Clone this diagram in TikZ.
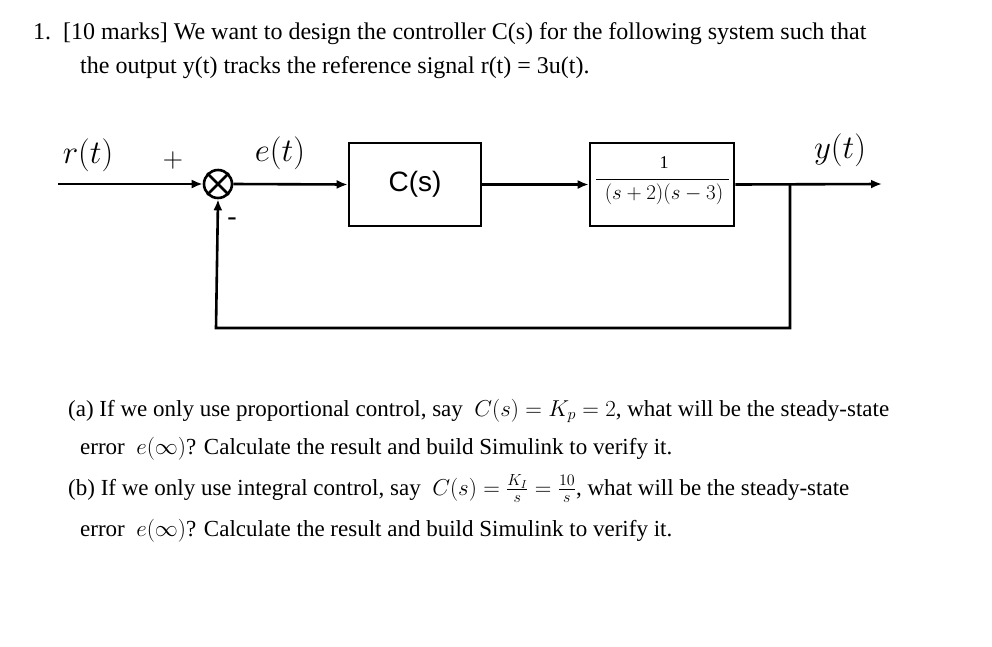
\RequirePackage{fix-cm}
\documentclass[tikz,border=0pt]{standalone}
\usepackage{fontspec}
\setmainfont{Liberation Serif}
\newfontfamily\blocksans{Liberation Sans}
\usetikzlibrary{arrows.meta}
\begin{document}
\begin{tikzpicture}[x=1pt,y=-1pt,
  wire/.style={line width=2.6pt},
  arr/.style={wire,-{Latex[length=11pt,width=9pt]}},
  blk/.style={draw,line width=2.6pt,minimum width=132pt,minimum height=83pt},
  txt/.style={anchor=base west,inner sep=0pt,font=\fontsize{24}{28}\selectfont},
  qtxt/.style={anchor=base west,inner sep=0pt,font=\fontsize{23}{28}\selectfont},
  lab/.style={font=\fontsize{33}{36}\selectfont}]
\useasboundingbox (0,0) rectangle (992,646);
\node[txt] (t1) at (33,39) {1.\ \ [10 marks] We want to design the controller C(s) for the following system such that};
\node[txt] (t2) at (80,73) {the output y(t) tracks the reference signal r(t) = 3u(t).};
% diagram
\coordinate (in) at (58,184);
\node[draw,circle,line width=2.6pt,minimum size=28pt,inner sep=0pt] (sum) at (218,184) {};
\draw[line width=2.6pt] (sum.45)--(sum.225) (sum.135)--(sum.315);
\node[blk] (c) at (415,184.5) {\blocksans\fontsize{28}{30}\selectfont C(s)};
\node[blk,minimum width=144pt] (g) at (662,184.5) {};
\node (num) at (664,163) {\fontsize{18}{20}\selectfont 1};
\node (den) at (664,194) {\fontsize{21}{24}\selectfont $(s+2)(s-3)$};
\draw[line width=1pt] (596,179) -- (729,179);
\coordinate (br) at (790,184);
\coordinate (out) at (882,184);
\coordinate (bl) at (790,328);
\coordinate (bb) at (216,328);
\draw[arr] (in) -- (sum.west);
\draw[arr] (sum.east) -- (c.west);
\draw[arr] (c.east) -- (g.west);
\draw[arr] (g.east) -- (out);
\draw[arr] (br) -- (bl) -- (bb) -- (sum.south);
\node[lab] (r) at (88,155) {$r(t)$};
\node[lab] (e) at (280,153) {$e(t)$};
\node[lab] (y) at (840,150) {$y(t)$};
\node[font=\fontsize{28}{30}\selectfont] (plus) at (173,160) {$+$};
\node[font=\fontsize{28}{30}\selectfont] (minus) at (232,222) {-};
% questions
\node[qtxt] (a1) at (68,416) {(a) If we only use proportional control, say\ \ $C(s)=K_p=2$, what will be the steady-state};
\node[qtxt] (a2) at (80,454) {error\ \ $e(\infty)$? Calculate the result and build Simulink to verify it.};
\node[qtxt] (b1) at (68,495) {(b) If we only use integral control, say\ \ $C(s)=\frac{K_I}{s}=\frac{10}{s}$, what will be the steady-state};
\node[qtxt] (b2) at (80,536) {error\ \ $e(\infty)$? Calculate the result and build Simulink to verify it.};
\end{tikzpicture}
\end{document}
